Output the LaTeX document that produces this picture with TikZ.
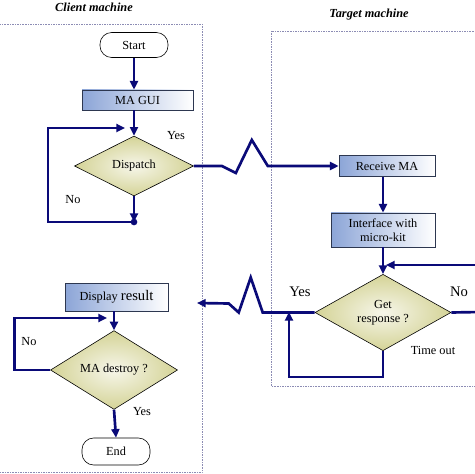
\documentclass[tikz,border=0pt]{standalone}
\usepackage{fontspec}
\setmainfont{Liberation Serif}
\usetikzlibrary{arrows.meta,shapes.geometric,positioning,calc}
\definecolor{flowline}{RGB}{10,10,120}
\definecolor{boxblue}{RGB}{140,165,215}
\definecolor{boxedge}{RGB}{45,55,80}
\definecolor{diafill}{RGB}{212,211,150}
\definecolor{zoneedge}{RGB}{140,140,180}

\begin{document}
\begin{tikzpicture}[x=0.3mm, y=-0.3mm, font=\fontsize{10.5}{12}\selectfont,
  flow/.style={draw=flowline, line width=0.8mm},
  arr/.style={flow, -{Triangle[length=2.6mm,width=2.4mm]}},
  zone/.style={draw=zoneedge, densely dotted, line width=0.4pt},
  term/.style={draw=black, rounded corners=3.5mm, fill=white, line width=0.5pt},
  proc/.style={draw=boxedge, line width=0.6pt, left color=boxblue, right color=white, inner sep=1pt},
  test/.style={diamond, draw=black, line width=0.5pt, inner sep=0pt, inner color=diafill!20!white, outer color=diafill},
  lbl/.style={inner sep=1pt}]
  \useasboundingbox (0,0) rectangle (474,474);

  % the two machines
  \draw[zone] (-3,24) rectangle (202,472);
  \draw[zone] (271,31) rectangle (480,386);
  \node[lbl] (clienttitle) at (94,7) {\textbf{\textit{Client machine}}};
  \node[lbl] (targettitle) at (369,15) {\textbf{\textit{Target machine}}};

  % client side
  \node[term, minimum width=20.4mm, minimum height=7.5mm] (start) at (134,45) {Start};
  \node[proc, minimum width=33.3mm, minimum height=6mm] (magui) at (137.5,100) {MA GUI};
  \node[test, minimum width=35.7mm, minimum height=18mm] (dispatch) at (134,166) {Dispatch};
  \node[proc, minimum width=30.9mm, minimum height=8.4mm] (display) at (116.5,297) {Display {\fontsize{12.5}{14}\selectfont result}};
  \node[test, minimum width=38.1mm, minimum height=21.3mm] (destroy) at (114,370) {MA destroy ?};
  \node[term, minimum width=20.4mm, minimum height=8.1mm] (end) at (116,451.5) {End};

  % target side
  \node[proc, minimum width=28.8mm, minimum height=6.3mm] (receive) at (387,166) {Receive MA\hspace{7mm}};
  \node[proc, minimum width=31.2mm, minimum height=10.2mm, align=center] (iface) at (383,230) {Interface with\\micro-kit};
  \node[test, minimum width=40.8mm, minimum height=17.7mm, align=center] (getresp) at (383,312.5) {Get\\response ?};

  \coordinate (dispjoin) at (134,222);
  \coordinate (dispback) at (125,128);
  \coordinate (retry) at (480,265);
  \coordinate (noout) at (480,312);
  \coordinate (resultin) at (197,303);
  \coordinate (timejoin) at (289,312);
  \coordinate (destback) at (107,318);

  % client connectors
  \draw[arr] (start) -- (start |- magui.north);
  \draw[arr] (magui.south -| dispatch) -- (dispatch.north);
  \draw[arr] (dispatch.south) -- (dispjoin);
  \fill[flowline] (dispjoin) circle (1mm);
  \draw[arr] (dispjoin) -- ++(-86,0) -- ++(0,-94) -- (dispback);
  \draw[arr] (dispatch.east) -- ++(28,0) -- ++(14,7) -- ++(16,-33) -- ++(16,26) -- (receive.west);% link to target
  \draw[arr] (display.south -| destroy) -- (destroy.north);
  \draw[arr] (destroy.west) -- ++(-36,0) |- (destback);
  \draw[arr] (destroy.south) -- (end.north);

  % target connectors
  \draw[arr] (receive.south -| iface) -- (iface.north);
  \draw[arr] (iface) -- (getresp.north);
  \draw[arr] (retry) -- ($(getresp.north |- retry)+(3,0)$);
  \draw[flow] (getresp.east) -- (noout);
  \draw[arr] (getresp.west) -- ++(-52,0) -- ++(-12,-35) -- ++(-12,35) -- ++(-10,-9) -- (resultin);% link back to client
  \draw[arr] (getresp.south) -- ++(0,26) -| (timejoin);

  % labels
  \node[lbl] (dispyes) at (176,136) {Yes};
  \node[lbl] (dispno) at (73,200) {No};
  \node[lbl, font=\fontsize{12.5}{14}\selectfont] (respyes) at (300,292) {Yes};
  \node[lbl, font=\fontsize{12.5}{14}\selectfont] (respno) at (459,292) {No};
  \node[lbl] (timeout) at (433,350) {Time out};
  \node[lbl] (destno) at (29,342) {No};
  \node[lbl] (destyes) at (142,412) {Yes};
\end{tikzpicture}
\end{document}
